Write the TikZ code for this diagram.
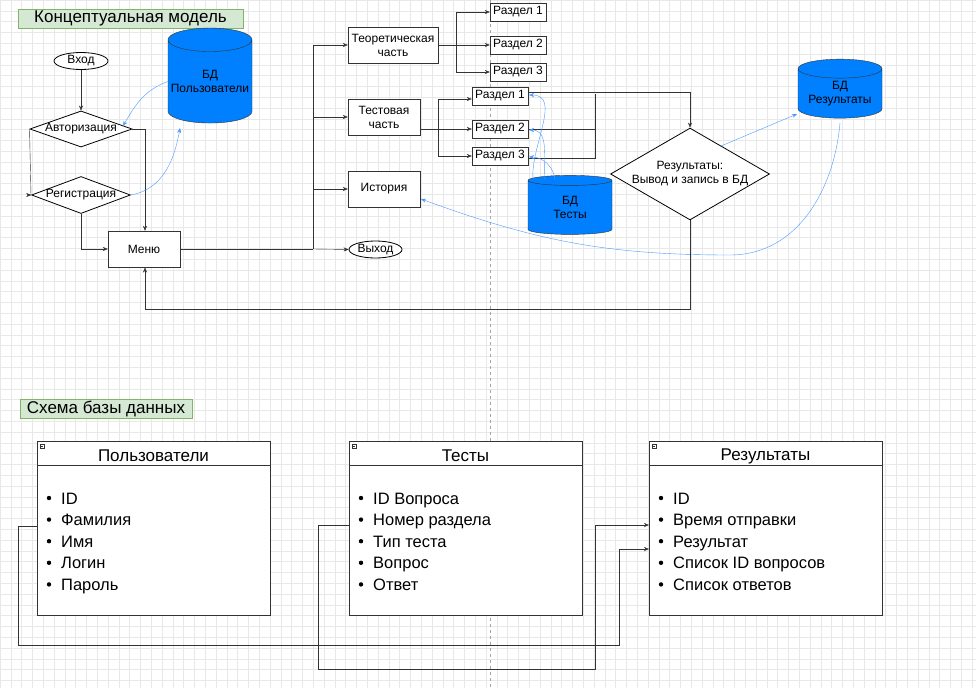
\documentclass[tikz,border=0pt]{standalone}
\usepackage{fontspec}
\setmainfont{Liberation Sans}
\usetikzlibrary{shapes.geometric,arrows.meta}
\definecolor{dbblue}{HTML}{007FFF}
\definecolor{lnk}{HTML}{4C9AFF}
\definecolor{gfill}{HTML}{D5E8D4}
\definecolor{gline}{HTML}{82B366}
\definecolor{ln}{HTML}{333333}
\begin{document}
\begin{tikzpicture}[x=1pt,y=-1pt,
  every node/.style={font=\fontsize{12}{14}\selectfont, align=center, inner sep=0pt},
  box/.style={draw=ln, fill=white, minimum width=#1, minimum height=36},
  sec/.style={draw=ln, fill=white, minimum width=56, minimum height=18},
  dia/.style={draw=black, thick, fill=white, diamond, aspect=#1},
  term/.style={draw=black, thick, ellipse, fill=white, minimum width=54, minimum height=17},
  db/.style={draw=ln, fill=dbblue, cylinder, shape border rotate=90, aspect=0.3, minimum width=84, minimum height=#1},
  conn/.style={draw=ln, -{Stealth[length=5pt,width=4pt]}},
  bl/.style={draw=lnk, -{Stealth[length=5pt,width=4pt]}},
  ttl/.style={draw=gline, fill=gfill, font=\fontsize{17}{19}\selectfont, minimum height=19, inner xsep=6pt},
  tbl/.style={draw=ln, fill=white, minimum width=233, minimum height=174, anchor=north west}
]
\useasboundingbox (0,0) rectangle (976,688);
\fill[white] (0,0) rectangle (976,688);
\foreach \i in {0,...,90} {\draw[black!9, line width=0.5pt] (\i*10.8,0) -- (\i*10.8,688);}
\foreach \i in {0,...,63} {\draw[black!9, line width=0.5pt] (0,\i*10.8) -- (976,\i*10.8);}
\draw[black!35, dashed, line width=0.6pt] (490,0) -- (490,688);

% titles
\node[ttl, minimum width=225] (t1) at (130.5,18.5) {Концептуальная модель};
\node[ttl, minimum width=172] (t2) at (106,409) {Схема базы данных};

% left flow
\node[term] (in) at (81,61) {Вход};
\node[dia=2.83, minimum width=102, minimum height=36] (auth) at (81,129) {Авторизация};
\node[dia=2.67, minimum width=96, minimum height=36] (reg) at (81,195) {Регистрация};
\node[db=95] (dbu) at (210,81.5) {БД\\Пользователи};
\node[box=72] (menu) at (144,249) {Меню};

\draw[conn] (in) -- (auth);
\draw[conn] (auth.east) -- (145,129) -- (menu.north -| 145,0);
\draw[conn] (auth.west) -- (31,195) -- (reg.west);
\draw[conn] (reg.south) |- (menu.west);
\draw[bl] (dbu.west) to[out=200,in=60] (123,126);
\draw[bl] (reg.east) to[out=10,in=260] (180,128);

% middle
\node[box=90] (theo) at (393,45) {Теоретическая\\часть};
\node[box=72] (test) at (384,117) {Тестовая\\часть};
\node[box=72] (hist) at (384,189) {История};
\node[term, minimum width=53] (out) at (375.5,249.5) {Выход};
\coordinate (bus) at (313,249);
\draw[ln] (menu.east) -- (bus);
\draw[ln] (313,45) -- (bus);
\draw[conn] (313,45) -- (theo.west);
\draw[conn] (313,117) -- (test.west);
\draw[conn] (313,189) -- (hist.west);
\draw[conn] (bus) -- (out.west);

\node[sec] (a1) at (518,12) {Раздел 1};
\node[sec] (a2) at (518,45) {Раздел 2};
\node[sec] (a3) at (518,72) {Раздел 3};
\draw[ln] (theo.east) -- (456,45);
\draw[ln] (456,12) -- (456,72);
\draw[conn] (456,12) -- (a1.west);
\draw[conn] (456,45) -- (a2.west);
\draw[conn] (456,72) -- (a3.west);

\node[sec] (b1) at (500,96) {Раздел 1};
\node[sec] (b2) at (500,129) {Раздел 2};
\node[sec] (b3) at (500,156) {Раздел 3};
\draw[ln] (test.east |- 0,129) -- (438,129);
\draw[ln] (438,99) -- (438,156);
\draw[conn] (438,99) -- (b1.west |- 0,99);
\draw[conn] (438,129) -- (b2.west);
\draw[conn] (438,156) -- (b3.west);

\node[db=59] (dbt) at (570,207.5) {БД\\Тесты};
\node[dia=1.73, minimum width=156, minimum height=90] (res) at (690,174) {Результаты:\\Вывод и запись в БД};
\node[db=59] (dbr) at (840,93.5) {БД\\Результаты};

\draw[conn] (b1.east |- 0,92) -- (690,92) -- (res.north);
\draw[ln] (595,94) -- (595,159);
\draw[ln] (b2.east) -- (595,129);
\draw[ln] (b3.east |- 0,158) -- (595,158);
\draw[bl] (533,180) to[out=95,in=0] (529,95);
\draw[bl] (545,180) to[out=95,in=0] (529,130);
\draw[bl] (555,180) to[out=95,in=0] (529,157);
\draw[bl] (721,146) -- (797,114);
\draw[bl] (840,123) to[out=265,in=0] (730,255) to[out=180,in=-20] (421,199);
\draw[conn] (res.south) -- (690,309) -- (145,309) -- (145,267.5);

% tables
\foreach \nm/\x/\ttl in {tu/37/Пользователи, tt/349/Тесты, tr/649/Результаты} {
  \node[tbl] (\nm) at (\x,441) {};
  \draw[ln] (\x,465) -- (\x+233,465);
  \draw[ln, line width=0.4pt] (\x+3,444) rectangle (\x+7,448);
  \draw[ln, line width=0.4pt] (\x+4,446) -- (\x+6,446);
  \node[font=\fontsize{17}{19}\selectfont] (\nm h) at (\x+116.5,456) {\ttl};
}
\foreach \x/\a/\b/\c/\d/\e in {
  37/ID/Фамилия/Имя/Логин/Пароль,
  349/ID Вопроса/Номер раздела/Тип теста/Вопрос/Ответ,
  649/ID/Время отправки/Результат/Список ID вопросов/Список ответов} {
  \foreach \t [count=\k from 0] in {\a,\b,\c,\d,\e} {
    \fill (\x+12,498+\k*21.6) circle (2.2);
    \node[font=\fontsize{16.5}{19}\selectfont, anchor=base west] (r\x\k) at (\x+24,504+\k*21.6) {\t};
  }
}
\draw[conn] (tu.west |- 0,526) -- (18,526) -- (18,645) -- (619,645) -- (619,549) -- (tr.west |- 0,549);
\draw[conn] (tt.west |- 0,525) -- (318,525) -- (318,669) -- (595,669) -- (595,525) -- (tr.west |- 0,525);
\end{tikzpicture}
\end{document}
